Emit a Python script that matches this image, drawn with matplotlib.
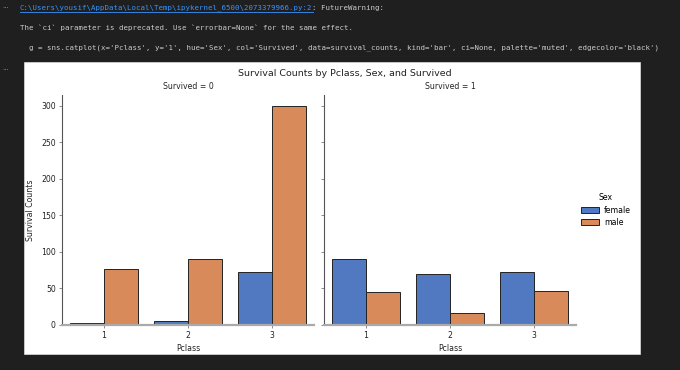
import matplotlib.pyplot as plt
from matplotlib.patches import Rectangle
import numpy as np

pclass = ['1', '2', '3']
sexes = ['female', 'male']
survived_groups = [0, 1]
# counts[survived][sex] -> per pclass
counts = {
    0: {'female': [3, 6, 72], 'male': [77, 91, 300]},
    1: {'female': [91, 70, 72], 'male': [45, 17, 47]},
}
colors = {'female': '#5079c2', 'male': '#d98a5b'}

warn_path = "C:\\Users\\yousif\\AppData\\Local\\Temp\\ipykernel_6500\\2073379966.py:2"
warn_msg = "The `ci` parameter is deprecated. Use `errorbar=None` for the same effect."
warn_code = ("  g = sns.catplot(x='Pclass', y='1', hue='Sex', col='Survived', "
             "data=survival_counts, kind='bar', ci=None, palette='muted', edgecolor='black')")

W, H = 680, 370
fig = plt.figure(figsize=(W / 100, H / 100), dpi=100, facecolor='#1f1f1f')

# notebook output text above the figure
mono = 'DejaVu Sans Mono'
t = fig.text(20 / W, 1 - 8 / H, warn_path, color='#3794ff', fontsize=5.3,
             family=mono, va='center', ha='left')
fig.canvas.draw()
bb = t.get_window_extent()
fig.add_artist(plt.Line2D([bb.x0 / W, bb.x1 / W], [(bb.y0 - 0.5) / H] * 2,
                          color='#3794ff', lw=0.6))
fig.text(bb.x1 / W, 1 - 8 / H, ": FutureWarning:", color='#cccccc', fontsize=5.3,
         family=mono, va='center', ha='left')
fig.text(20 / W, 1 - 28 / H, warn_msg, color='#cccccc', fontsize=5.3,
         family=mono, va='center', ha='left')
fig.text(20 / W, 1 - 48 / H, warn_code, color='#cccccc', fontsize=5.3,
         family=mono, va='center', ha='left')
fig.text(2 / W, 1 - 6 / H, "...", color='#999999', fontsize=5, va='center')
fig.text(2 / W, 1 - 68 / H, "...", color='#999999', fontsize=5, va='center')

# white figure panel
fig.add_artist(Rectangle((24 / W, 1 - 354 / H), (640 - 24) / W, (354 - 62) / H,
                         transform=fig.transFigure, facecolor='white',
                         edgecolor='#dddddd', lw=0.5, zorder=0))

fig.text(345 / W, 1 - 73 / H, "Survival Counts by Pclass, Sex, and Survived",
         fontsize=6.8, ha='center', va='center', color='#222222')

ax_left = [62, 324]
ax_width = 252
bottom = 1 - 325 / H
height = (325 - 95) / H
x = np.arange(len(pclass))
bw = 0.4

axes = []
for i, s in enumerate(survived_groups):
    ax = fig.add_axes([ax_left[i] / W, bottom, ax_width / W, height])
    for j, sex in enumerate(sexes):
        ax.bar(x - bw / 2 + j * bw, counts[s][sex], width=bw, color=colors[sex],
               edgecolor='#222222', linewidth=0.7, label=sex)
    ax.set_xlim(-0.5, 2.5)
    ax.set_ylim(0, 315)
    ax.set_xticks(x)
    ax.set_xticklabels(pclass)
    ax.set_yticks([0, 50, 100, 150, 200, 250, 300])
    ax.set_title(f"Survived = {s}", fontsize=5.6, pad=4, color='#222222')
    ax.set_xlabel("Pclass", fontsize=5.6, labelpad=3, color='#222222')
    for sp in ['top', 'right']:
        ax.spines[sp].set_visible(False)
    ax.spines['left'].set_color('#555555')
    ax.spines['left'].set_linewidth(0.8)
    ax.spines['bottom'].set_color('#aaaaaa')
    ax.spines['bottom'].set_linewidth(1.6)
    ax.tick_params(labelsize=5.6, length=2.5, width=0.6, color='#777777',
                   labelcolor='#222222', pad=2)
    axes.append(ax)

axes[0].set_ylabel("Survival Counts", fontsize=5.6, labelpad=4, color='#222222')
axes[1].tick_params(axis='y', labelleft=False)

handles, labels = axes[1].get_legend_handles_labels()
fig.legend(handles, labels, title="Sex", loc='center', bbox_to_anchor=(606 / W, 1 - 210 / H),
           frameon=False, fontsize=5.6, title_fontsize=5.6, handlelength=2.3,
           handleheight=0.8, handletextpad=0.6, labelspacing=0.4)

fig.savefig("out.png", dpi=100, facecolor=fig.get_facecolor())
